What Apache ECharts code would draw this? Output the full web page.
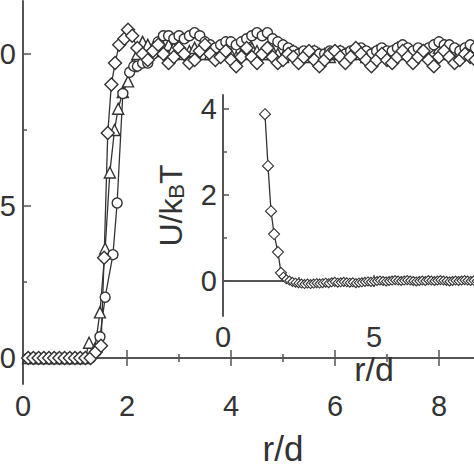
<!DOCTYPE html>
<html><head><meta charset="utf-8">
<script src="https://cdn.jsdelivr.net/npm/echarts@6/dist/echarts.min.js"></script>
<style>html,body{margin:0;padding:0;background:#fff}#c{width:474px;height:474px}</style>
</head><body><div id="c"></div>
<script>
// ---------------- DATA ----------------
const rStep = 0.1;
const lowStartR = 0.1;     // first r of the flat part
const highStartR = 2.2;    // first r of the plateau part
const insetTailStartR = 2.0;

const yTicksMain = [0, 0.5, 1.0];
const yMinorMain = [0.25, 0.75];
const yTicksInset = [0, 2, 4];
const yMinorInset = [1, 3];

// diamonds
const diamondLow = [0,0,0,0,0,0,0,0,0,0,0,0,0];
const diamondRise = [[1.4,0.02],[1.5,0.04],[1.56,0.33],[1.63,0.74],[1.7,0.9],[1.77,0.97],[1.85,1.03],[1.95,1.05],[2.02,1.08],[2.1,1.06]];
const diamondHigh = [1.02,1.0,0.98,1.01,1.03,1.0,0.97,0.99,1.02,1.0,0.97,0.98,1.01,1.03,1.0,0.98,0.99,1.01,0.98,0.96,0.99,1.02,0.99,0.97,1.0,1.02,0.99,0.97,0.98,1.0,0.99,0.97,0.99,1.01,0.98,0.96,0.98,1.0,1.01,0.99,0.97,0.99,1.02,1.0,0.98,0.96,0.98,1.0,0.98,0.97,0.99,1.01,0.99,0.97,0.99,1.01,0.98,0.96,0.99,1.01,0.99,0.97,0.98,1.0,0.99,0.98,1.0,1.01,0.99,0.98,1.0,1.01,0.99,1.0];

// triangles
const triangleLow = [0,0,0,0,0,0,0,0,0,0,0,0];
const triangleRise = [[1.27,0.05],[1.38,0.03],[1.48,0.15],[1.58,0.36],[1.67,0.61],[1.76,0.75],[1.83,0.82],[1.92,0.875],[2.02,0.91],[2.1,0.96]];
const triangleHigh = [1.0,1.04,1.03,1.02,1.01,1.02,1.03,1.02,1.01,1.0,1.01,1.02,1.01,1.0,1.0,1.01,1.02,1.01,1.0,0.99,1.0,1.01,1.02,1.01,1.0,1.0,1.01,1.0,0.99,1.0,1.01,1.0,0.99,1.0,1.01,1.0,1.0,0.99,1.0,1.01,1.0,1.0,1.01,1.0,0.99,1.0,1.01,1.0,1.0,1.01,1.02,1.01,1.0,1.0,1.01,1.0,1.0,1.01,1.02,1.01,1.0,1.0,1.01,1.0,1.0,1.01,1.0,1.0,1.01,1.0,1.0,1.01,1.0,1.0];

// circles
const circleLow = [0,0,0,0,0,0,0,0,0,0,0,0,0];
const circleRise = [[1.4,0.02],[1.48,0.07],[1.58,0.2],[1.73,0.34],[1.81,0.51],[1.92,0.87],[2.05,0.94],[2.13,0.96]];
const circleHigh = [0.96,0.97,0.97,1.0,1.04,1.06,1.06,1.05,1.06,1.05,1.06,1.07,1.06,1.04,1.03,1.02,1.03,1.04,1.04,1.03,1.04,1.05,1.06,1.07,1.06,1.07,1.05,1.04,1.03,1.02,1.01,1.0,1.01,1.0,1.01,1.0,1.0,1.01,1.0,1.01,1.0,1.01,1.01,1.02,1.01,1.0,1.01,1.02,1.01,1.01,1.02,1.03,1.02,1.01,1.02,1.01,1.02,1.03,1.04,1.03,1.03,1.02,1.01,1.02,1.03,1.02,1.03,1.02,1.01,1.02,1.01,1.02,1.01,1.01];

// inset: U/kBT
const insetRise = [[1.39,3.87],[1.49,2.67],[1.59,1.62],[1.69,1.09],[1.82,0.67],[1.92,0.19]];
const insetTail = [0.1,0.04,0.01,-0.02,-0.04,-0.05,-0.06,-0.07,-0.06,-0.07,-0.06,-0.05,-0.06,-0.05,-0.04,-0.05,-0.03,-0.02,-0.04,-0.03,-0.02,-0.03,-0.04,-0.03,-0.05,-0.04,-0.03,-0.02,-0.01,-0.02,-0.01,0.0,0.01,0.0,-0.01,0.0,0.01,0.02,0.01,0.0,0.01,0.02,0.01,0.0,-0.01,0.0,0.01,0.0,0.02,0.01,0.0,0.01,0.02,0.01,0.0,-0.01,0.0,0.01,0.0,0.01,0.02,0.01,0.0,0.01,0.0,-0.01,0.0,0.01,0.02,0.01,0.0,0.01,0.0,-0.01,0.0,0.01,0.0,0.01,0.0,0.01,0.0];

// ---------------- BUILD ----------------
function grid(start, vals) { return vals.map((v, i) => [+(start + i * rStep).toFixed(3), v]); }
const diamondData = grid(lowStartR, diamondLow).concat(diamondRise, grid(highStartR, diamondHigh));
const triangleData = grid(lowStartR, triangleLow).concat(triangleRise, grid(highStartR, triangleHigh));
const circleData = grid(lowStartR, circleLow).concat(circleRise, grid(highStartR, circleHigh));
const insetData = insetRise.concat(grid(insetTailStartR, insetTail));

const FONT = 'Liberation Sans, Arial, Helvetica, sans-serif';
const INK = '#333';
const AX = '#555';

const lineAxis = {lineStyle: {color: AX, width: 2}};
const lbl = (extra) => Object.assign({color: INK, fontSize: 29, fontFamily: FONT}, extra);

function markSeries(name, data, symbol, size, xi, yi) {
  return {
    name, type: 'line', data, xAxisIndex: xi, yAxisIndex: yi,
    symbol, symbolSize: size, showSymbol: true,
    lineStyle: {color: INK, width: 1.3},
    itemStyle: {color: '#fff', borderColor: INK, borderWidth: 1.4},
    animation: false, z: 3
  };
}

const chart = echarts.init(document.getElementById('c'), null, {renderer: 'svg'});
chart.setOption({
  animation: false,
  backgroundColor: '#fff',
  grid: [
    {left: 23, top: 1, width: 520, height: 383, containLabel: false, outerBoundsMode: 'none'},
    {left: 223, top: 95, width: 302, height: 221, containLabel: false, outerBoundsMode: 'none',
     show: true, backgroundColor: '#fff', borderWidth: 0, z: 5}
  ],
  xAxis: [
    {gridIndex: 0, type: 'value', min: 0, max: 10, interval: 2, position: 'bottom',
     axisLine: lineAxis, splitLine: {show: false},
     axisTick: {inside: true, length: 8, lineStyle: {color: AX, width: 1.5}},
     minorTick: {show: true, splitNumber: 2, length: 4, lineStyle: {color: AX, width: 1.5}},
     axisLabel: lbl({margin: 7}),
     name: 'r/d', nameLocation: 'middle', nameGap: 47,
     nameTextStyle: {color: INK, fontSize: 35, fontFamily: FONT}},
    {gridIndex: 0, type: 'value', min: 0, max: 10, interval: 2, position: 'top',
     axisLine: lineAxis, splitLine: {show: false},
     axisTick: {inside: true, length: 8, lineStyle: {color: AX, width: 1.5}},
     minorTick: {show: true, splitNumber: 2, length: 4, lineStyle: {color: AX, width: 1.5}},
     axisLabel: {show: false}},
    {gridIndex: 1, type: 'value', min: 0, max: 10, interval: 5, position: 'bottom', z: 6,
     axisLine: lineAxis, splitLine: {show: false},
     axisTick: {inside: true, length: 6, lineStyle: {color: AX, width: 1.5}},
     minorTick: {show: true, splitNumber: 2, length: 4, lineStyle: {color: AX, width: 1.5}},
     axisLabel: lbl({margin: 6}),
     name: 'r/d', nameLocation: 'middle', nameGap: 25,
     nameTextStyle: {color: INK, fontSize: 34, fontFamily: FONT}},
    {gridIndex: 1, type: 'value', min: 0, max: 10, interval: 5, position: 'top', z: 6,
     axisLine: lineAxis, splitLine: {show: false},
     axisTick: {inside: true, length: 6, lineStyle: {color: AX, width: 1.5}},
     minorTick: {show: true, splitNumber: 2, length: 4, lineStyle: {color: AX, width: 1.5}},
     axisLabel: {show: false}}
  ],
  yAxis: [
    {gridIndex: 0, type: 'value', min: -0.0855, max: 1.1743, position: 'left',
     axisLine: lineAxis, splitLine: {show: false},
     axisTick: {inside: true, length: 8, customValues: yTicksMain, lineStyle: {color: AX, width: 1.5}},
     axisLabel: lbl({margin: 7, customValues: yTicksMain, formatter: v => v.toFixed(1)})},
    {gridIndex: 0, type: 'value', min: -0.0855, max: 1.1743, position: 'left',
     axisLine: {show: false}, splitLine: {show: false},
     axisTick: {inside: true, length: 4, customValues: yMinorMain, lineStyle: {color: AX, width: 1.5}},
     axisLabel: {show: false}},
    {gridIndex: 1, type: 'value', min: -0.812, max: 4.315, position: 'left', z: 6,
     axisLine: lineAxis, splitLine: {show: false},
     axisTick: {inside: true, length: 6, customValues: yTicksInset, lineStyle: {color: AX, width: 1.5}},
     axisLabel: lbl({margin: 6, customValues: yTicksInset}),
     name: '{a|U/k}{b|B}{a|T}', nameLocation: 'middle', nameGap: 36, nameRotate: 90,
     nameTextStyle: {color: INK, fontFamily: FONT,
       rich: {a: {fontSize: 32, fontFamily: FONT, color: INK, lineHeight: 32, verticalAlign: 'top'},
              b: {fontSize: 22, fontFamily: FONT, color: INK, lineHeight: 22, verticalAlign: 'bottom', padding: [30, 0, 0, 0]}}}},
    {gridIndex: 1, type: 'value', min: -0.812, max: 4.315, position: 'left', z: 6,
     axisLine: {show: false}, splitLine: {show: false},
     axisTick: {inside: true, length: 4, customValues: yMinorInset, lineStyle: {color: AX, width: 1.5}},
     axisLabel: {show: false}}
  ],
  series: [
    markSeries('triangles', triangleData, 'triangle', 11, 0, 0),
    markSeries('circles', circleData, 'circle', 10, 0, 0),
    markSeries('diamonds', diamondData, 'diamond', 13, 0, 0),
    Object.assign(markSeries('U', insetData, 'diamond', 8, 2, 2), {
      z: 7,
      symbolSize: (v) => (v[1] > 0.15 ? 11 : 9),
      lineStyle: {color: INK, width: 1.3},
      itemStyle: {color: '#fff', borderColor: INK, borderWidth: 1.1}
    })
  ]
});
</script></body></html>
